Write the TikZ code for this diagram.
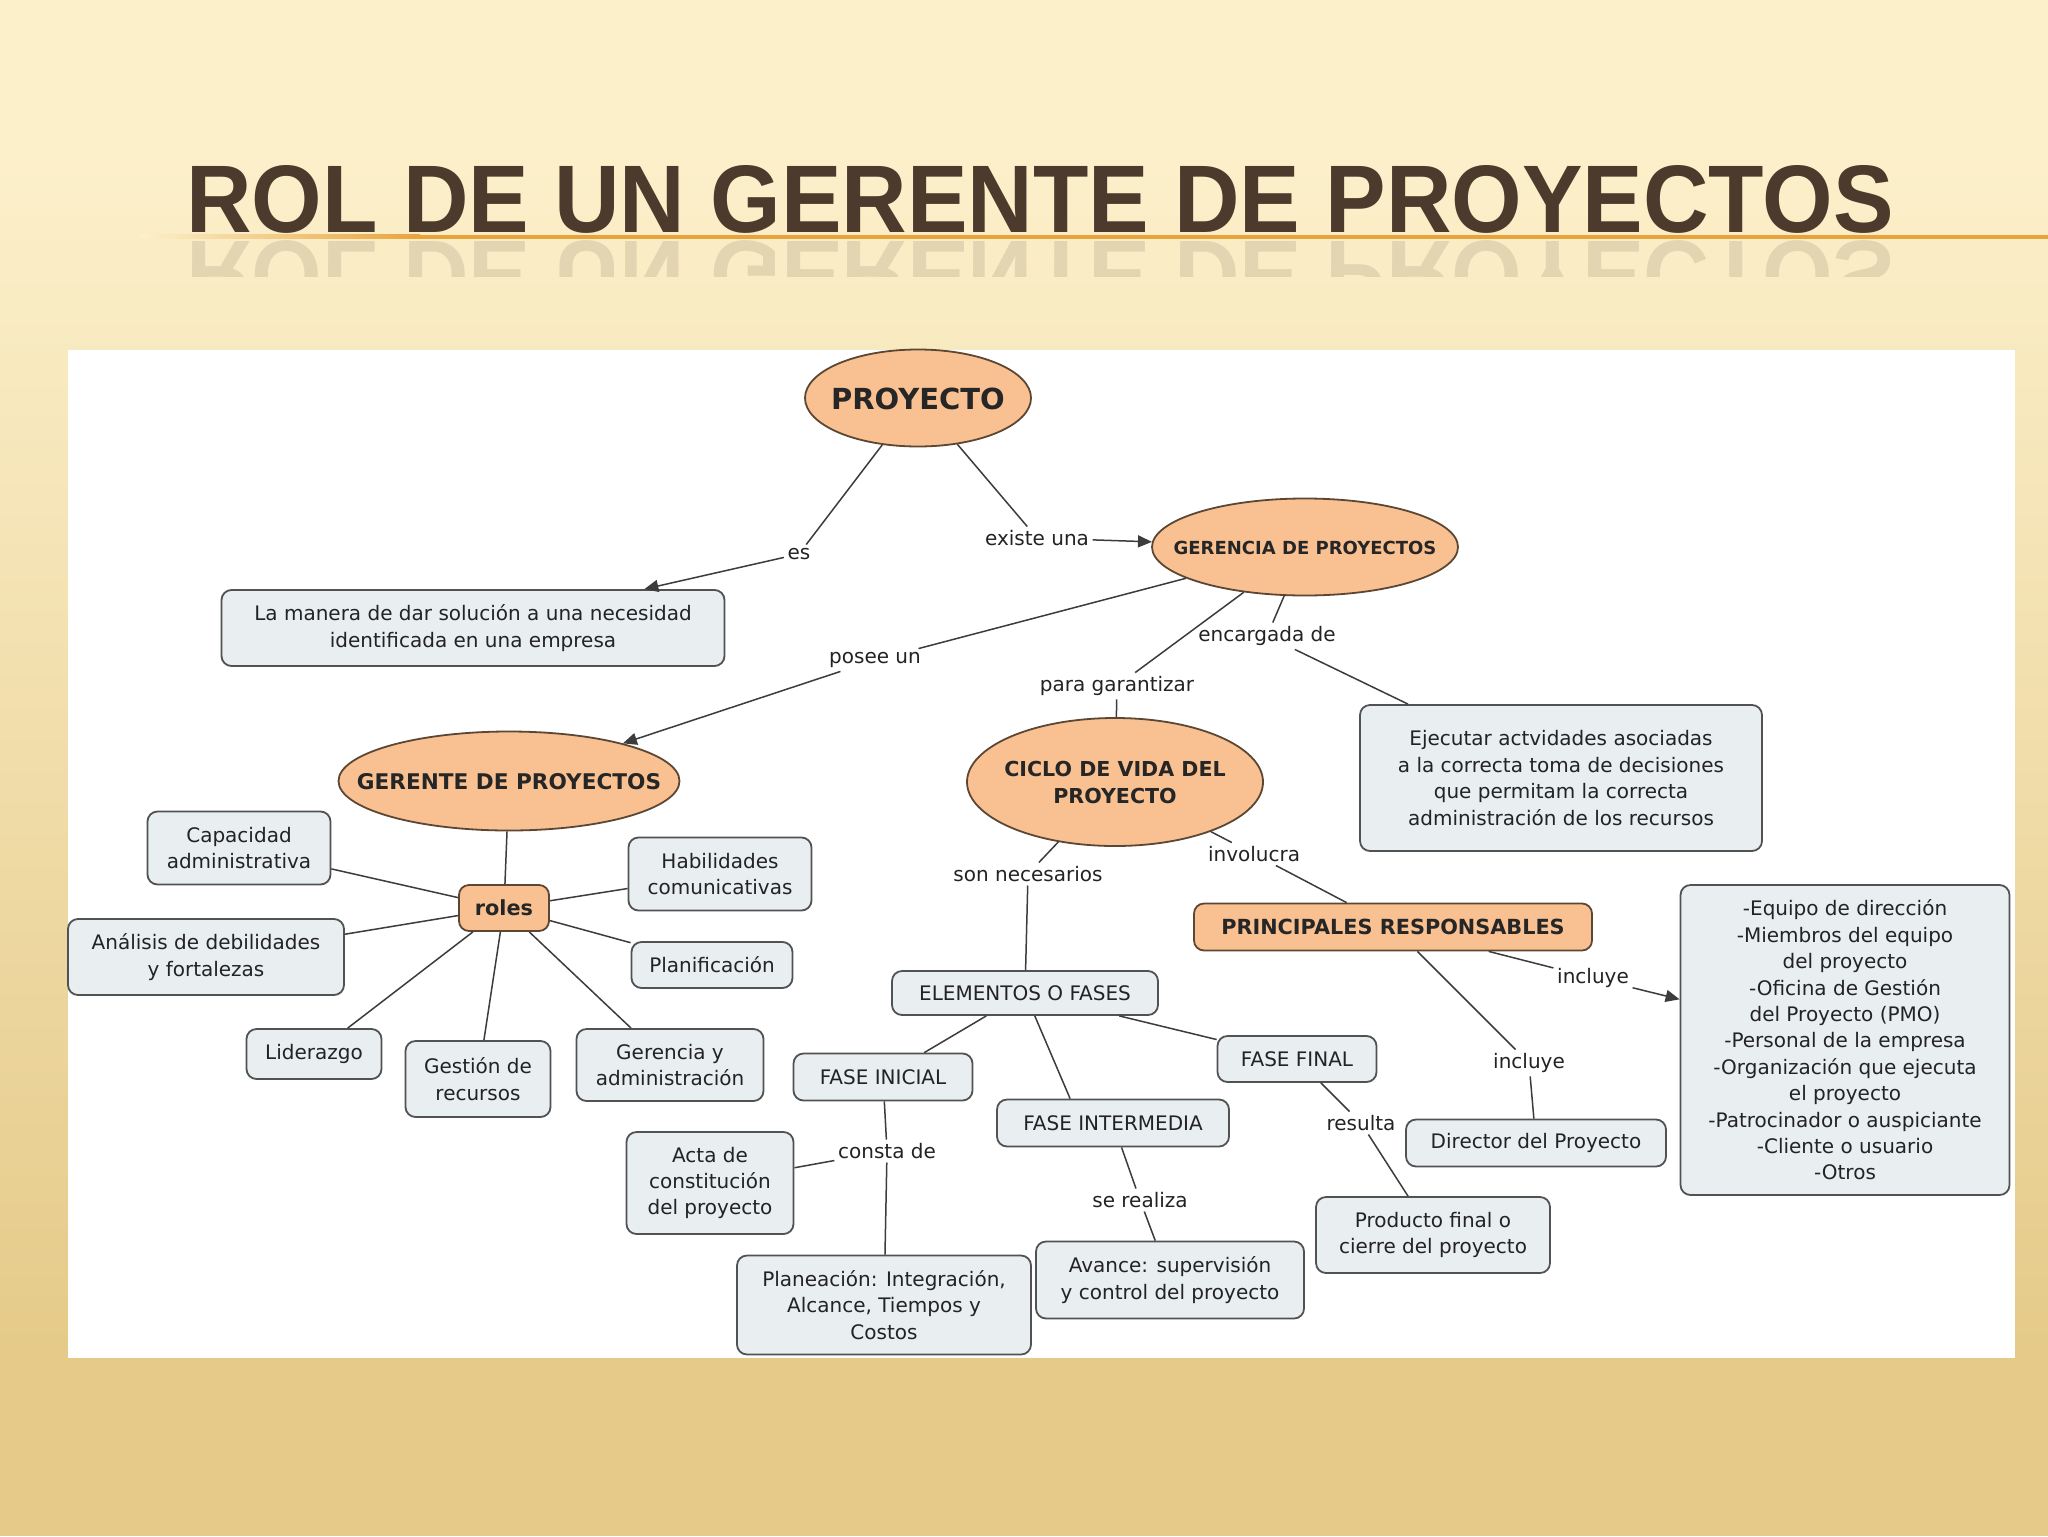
\documentclass[tikz,border=0pt]{standalone}
\usepackage{fontspec}
\usetikzlibrary{shapes.geometric,arrows.meta}
\newfontfamily\mapfont{DejaVu Sans}
\newfontfamily\headfont{Liberation Sans}

\definecolor{bgtop}{RGB}{252,240,203}
\definecolor{bggold}{RGB}{229,202,137}
\definecolor{titlebrown}{RGB}{76,59,45}
\definecolor{titleline}{RGB}{233,163,60}
\definecolor{peach}{RGB}{249,193,145}
\definecolor{peachline}{RGB}{92,70,52}
\definecolor{boxfill}{RGB}{233,238,241}
\definecolor{boxline}{RGB}{80,82,84}
\definecolor{connline}{RGB}{60,60,60}
\definecolor{maptext}{RGB}{35,35,35}

% text of an ellipse, kept out of the shape size
\newcommand{\ellipsetext}[2][1.4pt]{\raisebox{-#1}[\height][\depth]{\makebox[0pt]{\begin{tabular}{@{}c@{}}#2\end{tabular}}}}

\tikzset{every picture/.style={line width=0.75pt}}
\tikzset{
	concept/.style={ellipse, draw=peachline, fill=peach, line width=0.9pt, inner sep=0pt, text=black!85},
	conceptbox/.style={rounded corners=5pt, draw=peachline, fill=peach, line width=0.9pt, inner sep=0pt, align=center, text=black!85, font=\mapfont\bfseries\fontsize{10.4}{13}\selectfont},
	infobox/.style={rounded corners=5pt, draw=boxline, fill=boxfill, line width=0.9pt, inner sep=0pt, align=center, text=maptext, font=\mapfont\fontsize{10}{13.2}\selectfont},
	linklabel/.style={inner sep=1.5pt, text=maptext, font=\mapfont\fontsize{10}{12}\selectfont},
	conn/.style={draw=connline, line width=0.75pt},
	conarrow/.style={conn, -{Triangle[length=7pt,width=6pt]}}
}

\begin{document}
\begin{tikzpicture}[x=0.5pt,y=0.5pt,yscale=-1,xscale=1]
	\useasboundingbox (0,0) rectangle (2048,1536);

	%Shape: Background
	\fill[bgtop] (0,0) rectangle (2048,1536);
	\shade[top color=bgtop, bottom color=bggold] (0,150) rectangle (2048,1360);
	\fill[bggold] (0,1358) rectangle (2048,1536);

	%Shape: Title line
	\shade[left color=bgtop, right color=titleline] (140,234.5) rectangle (420,238.5);
	\fill[titleline] (420,234.5) rectangle (2048,238.5);

	% Text Node
	\draw (1040,232) node[anchor=base, xscale=0.945, text=titlebrown, font=\headfont\bfseries\fontsize{48}{48}\selectfont] (title) {ROL DE UN GERENTE DE PROYECTOS};
	% Text Node (reflection)
	\begin{scope}
		\clip (0,239) rectangle (2048,276);
		\draw (1040,241) node[anchor=base, xscale=0.945, yscale=-1, opacity=0.13, text=titlebrown, font=\headfont\bfseries\fontsize{48}{48}\selectfont] (titlerefl) {ROL DE UN GERENTE DE PROYECTOS};
	\end{scope}

	%Shape: Rectangle (white panel)
	\fill[white] (68,350) rectangle (2015,1358);

	%Shape: Ellipse
	\draw (918,398) node[concept, minimum width=113pt, minimum height=48.5pt, font=\mapfont\bfseries\fontsize{14.5}{16}\selectfont] (proy) {\ellipsetext[2.6pt]{PROYECTO}};
	%Shape: Ellipse
	\draw (1305,547) node[concept, minimum width=153pt, minimum height=48.5pt, font=\mapfont\bfseries\fontsize{9}{11}\selectfont] (gerencia) {\ellipsetext{GERENCIA DE PROYECTOS}};
	%Shape: Ellipse
	\draw (509,781) node[concept, minimum width=170.5pt, minimum height=49.5pt, font=\mapfont\bfseries\fontsize{10.8}{13}\selectfont] (gerente) {\ellipsetext{GERENTE DE PROYECTOS}};
	%Shape: Ellipse
	\draw (1115,782) node[concept, minimum width=148pt, minimum height=64pt, font=\mapfont\bfseries\fontsize{10.3}{13.5}\selectfont] (ciclo) {\ellipsetext{CICLO DE VIDA DEL\\PROYECTO}};

	%Shape: Rounded Rect
	\draw (504,908) node[conceptbox, minimum width=45pt, minimum height=23pt] (roles) {roles};
	\draw (1393,927) node[conceptbox, minimum width=199pt, minimum height=23.5pt] (respons) {PRINCIPALES RESPONSABLES};

	%Shape: Rounded Rect
	\draw (473,628) node[infobox, minimum width=251.5pt, minimum height=38pt] (manera) {La manera de dar solución a una necesidad\\identificada en una empresa};
	\draw (1561,778) node[infobox, minimum width=201pt, minimum height=73pt] (ejecutar) {Ejecutar actvidades asociadas\\a la correcta toma de decisiones\\que permitam la correcta\\administración de los recursos};
	\draw (239,848) node[infobox, minimum width=91.5pt, minimum height=36.5pt] (capacidad) {Capacidad\\administrativa};
	\draw (720,874) node[infobox, minimum width=91.5pt, minimum height=36.5pt] (habil) {Habilidades\\comunicativas};
	\draw (206,957) node[infobox, minimum width=138pt, minimum height=38pt] (analisis) {Análisis de debilidades\\y fortalezas};
	\draw (712,965) node[infobox, minimum width=80.5pt, minimum height=23pt] (planif) {Planificación};
	\draw (314,1054) node[infobox, minimum width=67.5pt, minimum height=25pt] (lider) {Liderazgo};
	\draw (478,1079) node[infobox, minimum width=72.5pt, minimum height=38pt] (gestion) {Gestión de\\recursos};
	\draw (670,1065) node[infobox, minimum width=93.5pt, minimum height=36pt] (geradm) {Gerencia y\\administración};
	\draw (1025,993) node[infobox, minimum width=133pt, minimum height=22pt] (elementos) {ELEMENTOS O FASES};
	\draw (883,1077) node[infobox, minimum width=89.5pt, minimum height=23.5pt] (inicial) {FASE INICIAL};
	\draw (1297,1059) node[infobox, minimum width=79.5pt, minimum height=23pt] (final) {FASE FINAL};
	\draw (1113,1123) node[infobox, minimum width=116pt, minimum height=23.5pt] (intermedia) {FASE INTERMEDIA};
	\draw (1536,1143) node[infobox, minimum width=130pt, minimum height=23.5pt] (director) {Director del Proyecto};
	\draw (710,1183) node[infobox, minimum width=83.5pt, minimum height=51pt] (acta) {Acta de\\constitución\\del proyecto};
	\draw (884,1305) node[infobox, minimum width=147pt, minimum height=49.5pt] (planeacion) {Planeación: Integración,\\Alcance, Tiempos y\\Costos};
	\draw (1170,1280) node[infobox, minimum width=134pt, minimum height=38.5pt] (avance) {Avance: supervisión\\y control del proyecto};
	\draw (1433,1235) node[infobox, minimum width=117pt, minimum height=38pt] (producto) {Producto final o\\cierre del proyecto};
	\draw (1845,1040) node[infobox, minimum width=164.5pt, minimum height=155pt] (lista) {-Equipo de dirección\\-Miembros del equipo\\del proyecto\\-Oficina de Gestión\\del Proyecto (PMO)\\-Personal de la empresa\\-Organización que ejecuta\\el proyecto\\-Patrocinador o auspiciante\\-Cliente o usuario\\-Otros};

	% Text Node
	\draw (799,554) node[linklabel] (es) {es};
	\draw (1037,538) node[linklabel] (existe) {existe una};
	\draw (875,660) node[linklabel] (posee) {posee un};
	\draw (1267,636) node[linklabel] (encargada) {encargada de};
	\draw (1117,686) node[linklabel] (garant) {para garantizar};
	\draw (1028,874) node[linklabel] (necesarios) {son necesarios};
	\draw (1254,854) node[linklabel] (involucra) {involucra};
	\draw (1593,978) node[linklabel] (incluyeA) {incluye};
	\draw (1529,1063) node[linklabel] (incluyeB) {incluye};
	\draw (1361,1123) node[linklabel] (resulta) {resulta};
	\draw (887,1151) node[linklabel] (consta) {consta de};
	\draw (1140,1200) node[linklabel] (realiza) {se realiza};

	% Connectors
	\draw[conn] (proy) -- (es);
	\draw[conarrow] (es) -- (manera);
	\draw[conn] (proy) -- (existe);
	\draw[conarrow] (existe) -- (gerencia);
	\draw[conn] (gerencia) -- (posee);
	\draw[conarrow] (posee) -- (gerente);
	\draw[conn] (gerencia) -- (garant);
	\draw[conn] (garant) -- (ciclo);
	\draw[conn] (gerencia) -- (encargada);
	\draw[conn] (encargada) -- (ejecutar);
	\draw[conn] (gerente) -- (roles);
	\draw[conn] (roles) -- (capacidad);
	\draw[conn] (roles) -- (habil);
	\draw[conn] (roles) -- (analisis);
	\draw[conn] (roles) -- (planif);
	\draw[conn] (roles) -- (lider);
	\draw[conn] (roles) -- (gestion);
	\draw[conn] (roles) -- (geradm);
	\draw[conn] (ciclo) -- (necesarios);
	\draw[conn] (necesarios) -- (elementos);
	\draw[conn] (ciclo) -- (involucra);
	\draw[conn] (involucra) -- (respons);
	\draw[conn] (elementos) -- (inicial);
	\draw[conn] (elementos) -- ([xshift=37pt]intermedia.north west);
	\draw[conn] (elementos) -- (final);
	\draw[conn] (inicial) -- (consta);
	\draw[conn] (consta) -- (acta);
	\draw[conn] (consta) -- (planeacion);
	\draw[conn] (intermedia) -- (realiza);
	\draw[conn] (realiza) -- (avance);
	\draw[conn] (final) -- (resulta);
	\draw[conn] (resulta) -- (producto);
	\draw[conn] (respons) -- (incluyeA);
	\draw[conarrow] (incluyeA) -- (lista);
	\draw[conn] (respons) -- (incluyeB);
	\draw[conn] (incluyeB) -- (director);

\end{tikzpicture}
\end{document}
